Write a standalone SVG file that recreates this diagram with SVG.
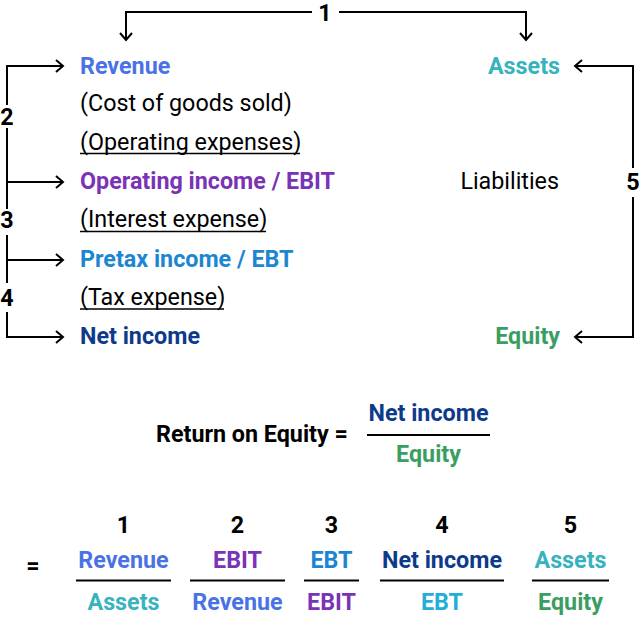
<svg xmlns="http://www.w3.org/2000/svg" width="640" height="617" viewBox="0 0 640 617">
<style>
text{font-family:Roboto,"Liberation Sans",sans-serif;font-size:23.3px}
.b{font-weight:bold}
.num{font-weight:bold;text-anchor:middle;fill:#000}
.c{text-anchor:middle}
.e{text-anchor:end}
.rev{fill:#4a72e6}
.ebit{fill:#7b33b5}
.ebt{fill:#1c86d2}
.ni{fill:#0e3a8c}
.as{fill:#38b3be}
.eq{fill:#3a9e62}
.ebt2{fill:#22aed8}
.conn{fill:none;stroke:#000;stroke-width:2}
.ul{stroke:#000;stroke-width:1.5}
.fl{stroke:#000;stroke-width:2}
</style>
<defs>
<marker id="ah" viewBox="-9 -8 11 16" markerWidth="11" markerHeight="16" refX="0" refY="0" orient="auto" markerUnits="userSpaceOnUse">
<path d="M-7,-6 L0,0 L-7,6" fill="none" stroke="#000" stroke-width="2"/>
</marker>
</defs>
<rect width="640" height="617" fill="#fff"/>
<g id="connectors">
<path class="conn" d="M312 12 H126 V40" marker-end="url(#ah)"/>
<path class="conn" d="M339 12 H526 V40" marker-end="url(#ah)"/>
<path class="conn" d="M7 105 V66 H63" marker-end="url(#ah)"/>
<path class="conn" d="M7 128 V209"/>
<path class="conn" d="M7 182 H63" marker-end="url(#ah)"/>
<path class="conn" d="M7 235 V283"/>
<path class="conn" d="M7 260 H63" marker-end="url(#ah)"/>
<path class="conn" d="M7 312 V337 H63" marker-end="url(#ah)"/>
<path class="conn" d="M633 168 V66 H575" marker-end="url(#ah)"/>
<path class="conn" d="M633 197 V337 H575" marker-end="url(#ah)"/>
<text class="num" x="325" y="21">1</text>
<text class="num" x="7" y="125">2</text>
<text class="num" x="7" y="228">3</text>
<text class="num" x="7" y="306">4</text>
<text class="num" x="633" y="190">5</text>
</g>
<g id="revenue"><text class="b rev" x="80" y="73.5">Revenue</text></g>
<g id="cogs"><text x="80" y="111">(Cost of goods sold)</text></g>
<g id="opex"><text x="80" y="149.5">(Operating expenses)</text><line class="ul" x1="80" y1="153.5" x2="300" y2="153.5"/></g>
<g id="ebit"><text class="b ebit" x="80" y="188.5">Operating income / EBIT</text></g>
<g id="interest"><text x="80" y="227">(Interest expense)</text><line class="ul" x1="80" y1="231.5" x2="266" y2="231.5"/></g>
<g id="ebt"><text class="b ebt" x="80" y="266.5">Pretax income / EBT</text></g>
<g id="tax"><text x="80" y="305">(Tax expense)</text><line class="ul" x1="80" y1="309" x2="224" y2="309"/></g>
<g id="netincome"><text class="b ni" x="80" y="344">Net income</text></g>
<g id="assets"><text class="b as e" x="560" y="73.5">Assets</text></g>
<g id="liabilities"><text class="e" x="559" y="189">Liabilities</text></g>
<g id="equity"><text class="b eq e" x="560" y="344">Equity</text></g>
<g id="roe">
<text class="b" x="156" y="442" fill="#000">Return on Equity =</text>
<text class="b ni c" x="428.5" y="421">Net income</text>
<line class="fl" x1="367" y1="435" x2="490" y2="435"/>
<text class="b eq c" x="428.5" y="462">Equity</text>
</g>
<g id="dupont">
<text class="b c" x="33" y="574" fill="#000">=</text>
<text class="num" x="123.5" y="533">1</text>
<text class="b rev c" x="123.5" y="567.5">Revenue</text>
<line class="fl" x1="76" y1="580.5" x2="171" y2="580.5"/>
<text class="b as c" x="123.5" y="610">Assets</text>
<text class="num" x="237.5" y="533">2</text>
<text class="b ebit c" x="237.5" y="567.5">EBIT</text>
<line class="fl" x1="190" y1="580.5" x2="285" y2="580.5"/>
<text class="b rev c" x="237.5" y="610">Revenue</text>
<text class="num" x="331.5" y="533">3</text>
<text class="b ebt c" x="331.5" y="567.5">EBT</text>
<line class="fl" x1="304" y1="580.5" x2="359" y2="580.5"/>
<text class="b ebit c" x="331.5" y="610">EBIT</text>
<text class="num" x="442" y="533">4</text>
<text class="b ni c" x="442" y="567.5">Net income</text>
<line class="fl" x1="380" y1="580.5" x2="504" y2="580.5"/>
<text class="b ebt2 c" x="442" y="610">EBT</text>
<text class="num" x="570.5" y="533">5</text>
<text class="b as c" x="570.5" y="567.5">Assets</text>
<line class="fl" x1="532" y1="580.5" x2="609" y2="580.5"/>
<text class="b eq c" x="570.5" y="610">Equity</text>
</g>
</svg>
